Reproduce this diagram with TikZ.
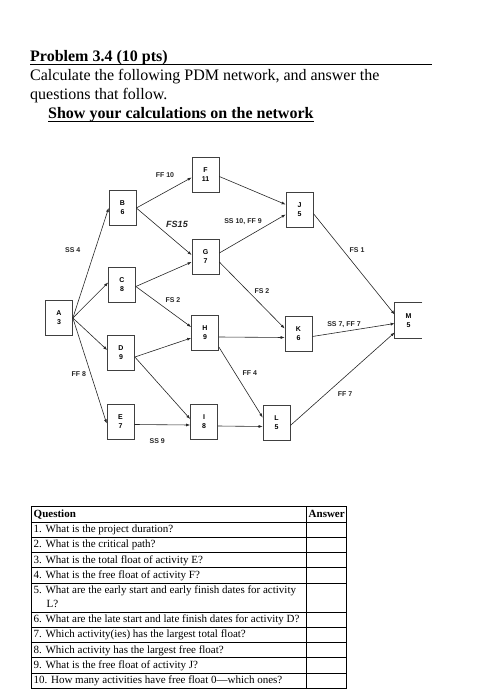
\documentclass[tikz,border=0pt]{standalone}
\usepackage{fontspec}
\setmainfont{Liberation Serif}
\setsansfont{Liberation Sans}
\usepackage{array}
\usetikzlibrary{arrows.meta,positioning,calc}

\begin{document}
\begin{tikzpicture}[
  x=1pt, y=-1pt,
  >={Latex[length=4pt,width=3pt]},
  act/.style={
    draw=black!75,
    fill=white,
    line width=0.7pt,
    minimum width=27pt,
    minimum height=35pt,
    inner sep=0pt,
    align=center,
    font=\fontsize{7}{9}\selectfont\sffamily\bfseries
  },
  link/.style={->, line width=0.6pt, black!85},
  lag/.style={
    font=\fontsize{7}{8}\selectfont\sffamily\bfseries,
    inner sep=0pt, anchor=center
  },
  heading/.style={anchor=base west, inner sep=0pt, font=\fontsize{16}{19}\selectfont}
]

  \useasboundingbox (0,0) rectangle (480,700);

  % --- HEADER: PROBLEM STATEMENT ---
  \node[heading, font=\fontsize{16}{19}\selectfont\bfseries] (title) at (30,62) {Problem 3.4 (10 pts)};
  \draw[line width=0.8pt] ([yshift=-2.5pt]title.base west) -- ++(402,0);
  \node[heading] (task1) at (30,80.5) {Calculate the following PDM network, and answer the};
  \node[heading] (task2) at (30,100) {questions that follow.};
  \node[heading, font=\fontsize{16}{19}\selectfont\bfseries] (show) at (48,119) {Show your calculations on the network};
  \draw[line width=1.2pt] ([yshift=-2.8pt]show.base west) -- ([yshift=-2.8pt]show.base east);

  % --- PDM NETWORK: ACTIVITY BOXES ---
  \node[act] (A) at (59,318) {A\\3};
  \node[act] (B) at (122.5,208) {B\\6};
  \node[act] (C) at (122,284.5) {C\\8};
  \node[act] (D) at (121,353) {D\\9};
  \node[act] (E) at (120.5,421.5) {E\\7};
  \node[act] (F) at (205.5,174.5) {F\\11};
  \node[act] (G) at (205.5,257) {G\\7};
  \node[act] (H) at (205,333) {H\\9};
  \node[act] (I) at (204,422) {I\\8};
  \node[act] (J) at (299.5,209.5) {J\\5};
  \node[act] (K) at (298.5,333.5) {K\\6};
  \node[act] (L) at (276.5,422.5) {L\\5};
  \node[act, draw=none] (M) at (408.5,320.5) {M\\5};
  \draw[black!75, line width=0.7pt] (M.north east) -- (M.north west) -- (M.south west) -- (M.south east);

  % Precedence links with lag labels
  \draw[link] (A.east) -- (B.west)
    node[lag, midway, xshift=-18pt, yshift=13pt] {SS 4};
  \draw[link] (A.east) -- ([yshift=2pt]C.west);
  \draw[link] (A.east) -- ([yshift=3pt]D.west);
  \draw[link] (A.east) -- ([yshift=-2pt]E.west)
    node[lag, midway, xshift=-11pt, yshift=-3pt] {FF 8};

  \draw[link] (B.east) -- ([yshift=-3pt]F.west)
    node[lag, midway, xshift=1pt, yshift=17.5pt] {FF 10};
  \draw[link] (B.east) -- ([yshift=2pt]G.west)
    node[lag, midway, xshift=13pt, yshift=7.5pt, font=\fontsize{9}{9}\selectfont\sffamily\bfseries\itshape] {FS15};

  \draw[link] ([yshift=-2pt]C.east) -- ([yshift=-5pt]G.west);
  \draw[link] ([yshift=-2pt]C.east) -- ([yshift=6pt]H.west)
    node[lag, midway, xshift=9.5pt, yshift=7pt] {FS 2};

  \draw[link] ([yshift=-4pt]D.east) -- ([yshift=-5pt]H.west);
  \draw[link] ([yshift=-4pt]D.east) -- ([yshift=3pt]I.west);

  \draw[link] ([yshift=-3pt]E.east) -- ([yshift=-3pt]I.west)
    node[lag, midway, xshift=-5pt, yshift=-16pt] {SS 9};

  \draw[link] ([yshift=-2pt]F.east) -- ([yshift=5pt]J.west);
  \draw[link] ([yshift=4pt]G.east) -- ([yshift=-5pt]J.west)
    node[lag, midway, xshift=-9.5pt, yshift=12pt] {SS 10, FF 9};
  \draw[link] ([yshift=-5pt]G.east) -- ([yshift=5pt]K.west)
    node[lag, midway, xshift=10pt, yshift=4pt] {FS 2};

  \draw[link] ([yshift=-4pt]H.east) -- ([yshift=-4pt]K.west);
  \draw[link] ([yshift=-14pt]H.east) -- ([yshift=5pt]L.west)
    node[lag, midway, xshift=9pt, yshift=9pt] {FF 4};

  \draw[link] ([yshift=-4pt]I.east) -- ([yshift=-4pt]L.west);

  \draw[link] ([yshift=-4pt]J.east) -- ([yshift=6pt]M.west)
    node[lag, midway, xshift=3pt, yshift=14pt] {FS 1};
  \draw[link] ([yshift=-3pt]K.east) -- ([yshift=-3pt]M.west)
    node[lag, midway, xshift=-9.5pt, yshift=5.5pt] {SS 7, FF 7};
  \draw[link] ([yshift=-3pt]L.east) -- ([yshift=-12pt]M.west)
    node[lag, midway, xshift=2.5pt, yshift=-15pt] {FF 7};

  % --- QUESTION TABLE ---
  \node[anchor=north west, inner sep=0pt] (questions) at (31,506) {%
    \fontsize{11}{13.5}\selectfont
    \setlength{\tabcolsep}{1.5pt}\setlength{\arrayrulewidth}{1pt}%
    \renewcommand{\arraystretch}{1.06}%
    \begin{tabular}{|>{\raggedright\arraybackslash}p{271pt}|p{36pt}|}
      \hline
      \textbf{Question} & \textbf{Answer}\\ \hline
      1. What is the project duration? & \\ \hline
      2. What is the critical path? & \\ \hline
      3. What is the total float of activity E? & \\ \hline
      4. What is the free float of activity F? & \\ \hline
      \hangindent=13pt\hangafter=1 5. What are the early start and early finish dates for activity L? & \\ \hline
      6. What are the late start and late finish dates for activity D? & \\ \hline
      7. Which activity(ies) has the largest total float? & \\ \hline
      8. Which activity has the largest free float? & \\ \hline
      9. What is the free float of activity J? & \\ \hline
      10. How many activities have free float 0---which ones? & \\ \hline
    \end{tabular}};

\end{tikzpicture}
\end{document}
